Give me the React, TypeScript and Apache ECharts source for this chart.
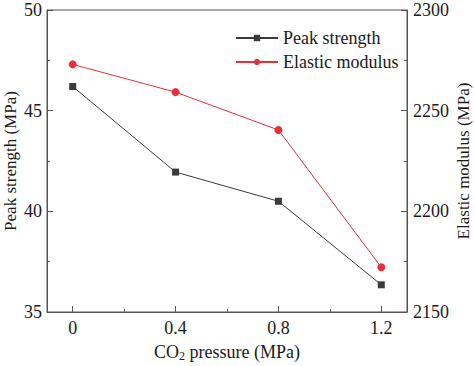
import React, { useEffect, useRef } from "react";
import * as echarts from "echarts";

const pressures = [0, 0.4, 0.8, 1.2];
const peakStrength = [46.2, 41.95, 40.5, 36.35];
const elasticModulus = [2273, 2259.2, 2240.4, 2172.2];
const xTickValues = [0, 0.4, 0.8, 1.2];
const xMinorTickValues = [0.2, 0.6, 1.0];

const FONT = "Liberation Serif";
const FS = 18;
const TXT = "#1a1a1a";
const AX = "#555555";

export default function App() {
  const ref = useRef<HTMLDivElement>(null);
  useEffect(() => {
    if (!ref.current) return;
    const chart = echarts.init(ref.current, null, { renderer: "svg" });
    const axisLine = { show: true, onZero: false, lineStyle: { color: AX, width: 1 } };
    chart.setOption({
      animation: false,
      textStyle: { fontFamily: FONT },
      grid: {
        left: 47, right: 67, top: 10, bottom: 54,
        containLabel: false, outerBoundsMode: "none",
        show: true, borderColor: AX, borderWidth: 1, backgroundColor: "transparent",
      },
      legend: {
        orient: "vertical",
        left: 230,
        top: 24,
        itemWidth: 42,
        itemHeight: 8,
        itemGap: 6,
        textStyle: { fontFamily: FONT, fontSize: FS, color: TXT },
        data: ["Peak strength", "Elastic modulus"],
      },
      xAxis: [
        {
          type: "value",
          min: -0.1,
          max: 1.3,
          axisLine,
          splitLine: { show: false },
          axisTick: { show: true, inside: true, length: 6, customValues: xTickValues, lineStyle: { color: AX } },
          axisLabel: { customValues: xTickValues, fontFamily: FONT, fontSize: FS, color: TXT, margin: 7, formatter: (v: number) => String(v) },
          name: "{a|CO}{s|2}{a| pressure (MPa)}",
          nameLocation: "middle",
          nameMoveOverlap: false,
          nameGap: 30,
          nameTextStyle: {
            rich: {
              a: { fontFamily: FONT, fontSize: FS, color: TXT },
              s: { fontFamily: FONT, fontSize: 12, color: TXT, verticalAlign: "bottom", padding: [8, 0, 0, 0] },
            },
          },
        },
        {
          type: "value",
          min: -0.1,
          max: 1.3,
          position: "bottom",
          axisLine: { show: false, onZero: false },
          splitLine: { show: false },
          axisTick: { show: true, inside: true, length: 3, customValues: xMinorTickValues, lineStyle: { color: AX } },
          axisLabel: { show: false },
        },
      ],
      yAxis: [
        {
          type: "value",
          min: 35,
          max: 50,
          interval: 5,
          axisLine,
          splitLine: { show: false },
          axisTick: { inside: true, length: 6, lineStyle: { color: AX } },
          minorTick: { show: true, splitNumber: 2, length: 3, lineStyle: { color: AX } },
          axisLabel: { fontFamily: FONT, fontSize: FS, color: TXT, margin: 5 },
          name: "Peak strength (MPa)",
          nameLocation: "middle",
          nameMoveOverlap: false,
          nameGap: 28,
          nameTextStyle: { fontFamily: FONT, fontSize: 17, color: TXT },
        },
        {
          type: "value",
          min: 2150,
          max: 2300,
          interval: 50,
          position: "right",
          axisLine,
          splitLine: { show: false },
          axisTick: { inside: true, length: 6, lineStyle: { color: AX } },
          minorTick: { show: true, splitNumber: 2, length: 3, lineStyle: { color: AX } },
          axisLabel: { fontFamily: FONT, fontSize: FS, color: TXT, margin: 6, formatter: (v: number) => String(v) },
          name: "Elastic modulus (MPa)",
          nameLocation: "middle",
          nameMoveOverlap: false,
          nameGap: 48,
          nameRotate: 90,
          nameTextStyle: { fontFamily: FONT, fontSize: 17, color: TXT },
        },
      ],
      series: [
        {
          name: "Peak strength",
          type: "line",
          xAxisIndex: 0,
          yAxisIndex: 0,
          data: pressures.map((p, i) => [p, peakStrength[i]]),
          symbol: "rect",
          symbolSize: 7,
          lineStyle: { color: "#3a3a3a", width: 1 },
          itemStyle: { color: "#3a3a3a" },
        },
        {
          name: "Elastic modulus",
          type: "line",
          xAxisIndex: 0,
          yAxisIndex: 1,
          data: pressures.map((p, i) => [p, elasticModulus[i]]),
          symbol: "circle",
          symbolSize: 8,
          lineStyle: { color: "#e8303a", width: 1 },
          itemStyle: { color: "#e8303a" },
        },
      ],
    });
    return () => chart.dispose();
  }, []);
  return <div ref={ref} style={{ width: 474, height: 366, position: "absolute", left: 0, top: 0 }} />;
}
